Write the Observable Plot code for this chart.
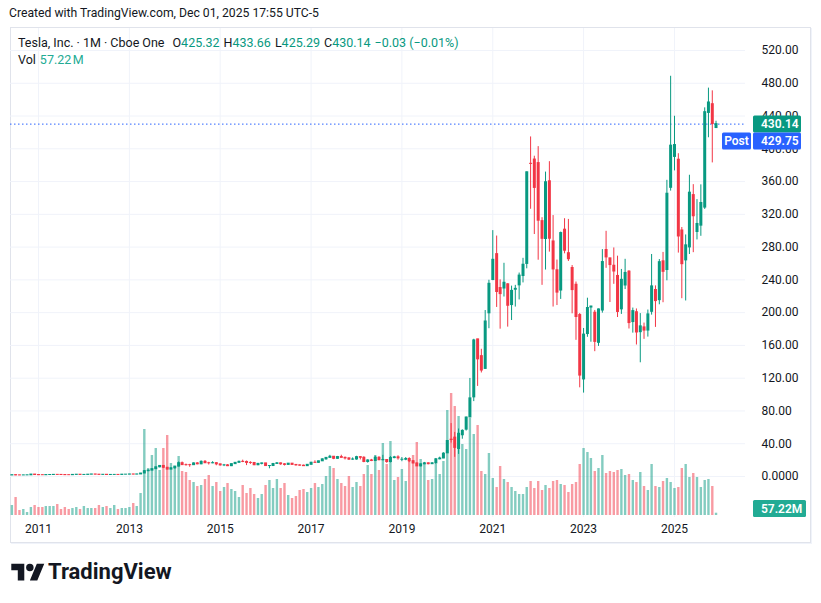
<!DOCTYPE html>
<html><head><meta charset="utf-8">
<script src="https://cdn.jsdelivr.net/npm/d3@7"></script>
<script src="https://cdn.jsdelivr.net/npm/@observablehq/plot@0.6"></script>
<style>
body{margin:0;background:#fff;font-family:"Trebuchet MS",Roboto,"DejaVu Sans",sans-serif;color:#131722}
#wrap{position:relative;width:821px;height:603px;overflow:hidden;background:#fff}
.layer{position:absolute;left:0;top:0}
#frame{position:absolute;left:10px;top:27px;width:799px;height:514px;border:1px solid #e0e3eb;box-shadow:1px 1px 0 #f0f3fa}
#created{position:absolute;left:9px;top:5px;font-size:12.2px;line-height:16px;color:#131722;white-space:nowrap}
.leg{position:absolute;left:18px;font-size:12.5px;line-height:16px;white-space:nowrap;color:#131722}
.leg .v{color:#089981}
.leg .sp{display:inline-block;width:4px}
.leg .sp2{display:inline-block;width:8px}
#brand{position:absolute;left:48px;top:559px;font-family:Roboto,"Noto Sans",sans-serif;font-weight:700;font-size:22px;line-height:26px;color:#131722;letter-spacing:0}
#logo{position:absolute;left:11px;top:560px}
</style></head>
<body><div id="wrap">
<div id="created">Created with TradingView.com, Dec 01, 2025 17:55 UTC-5</div>
<div id="frame"></div>
<div id="plots"></div>
<div class="leg" id="leg1" style="top:35px"></div>
<div class="leg" id="leg2" style="top:52px"></div>
<svg id="logo" width="34" height="26" viewBox="0 0 36 28"><path fill="#131722" d="M14 22H7V11H0V4h14v18zM28 22h-8l7.5-18h8L28 22z"/><circle fill="#131722" cx="20" cy="8" r="4"/></svg>
<div id="brand">TradingView</div>
</div>
<script>
// ---- data (monthly, split-adjusted) ----
const firstMonth = "2010-06-01";
const open = [
1.27,1.67,1.37,1.31,1.39,1.46,2.36,
1.79,1.62,1.57,1.79,1.85,2.00,1.94,1.86,1.64,1.63,1.95,2.18,
1.90,1.94,2.23,2.48,2.22,1.96,2.09,1.82,1.92,1.95,1.89,2.25,
2.26,2.50,2.32,2.53,3.67,6.50,7.20,8.99,11.23,12.89,10.65,8.46,
9.99,12.09,16.26,13.90,13.86,13.83,16.00,14.89,17.93,16.18,16.11,16.29,
14.83,13.57,13.59,12.59,15.09,16.70,17.89,17.75,16.58,16.56,13.79,15.39,
16.00,12.76,12.77,15.32,16.05,14.88,14.15,15.67,14.13,13.60,13.18,12.63,
14.25,16.79,16.67,18.55,20.94,22.73,24.11,21.57,23.73,22.74,22.10,20.59,
20.76,23.62,22.87,17.74,19.59,18.98,22.86,19.88,20.11,17.65,22.49,23.37,
20.41,20.47,21.33,18.66,15.91,12.34,14.90,16.11,15.04,16.06,20.99,21.99,
28.30,44.91,47.42,33.60,50.33,57.20,72.06,96.60,167.38,146.92,131.33,199.20,
239.82,271.43,230.04,229.46,234.60,209.27,227.97,233.33,244.69,259.47,381.67,386.90,
382.58,311.74,289.89,360.38,286.92,251.72,227.00,301.28,272.58,254.50,234.05,197.08,
118.47,173.89,206.21,199.91,163.17,202.59,276.49,266.26,257.26,244.81,204.04,233.14,
250.08,188.50,200.52,176.17,182.00,178.13,201.02,227.69,215.26,262.67,252.04,352.38,
390.10,386.68,300.34,263.80,279.63,343.50,298.46,306.20,328.23,443.80,454.46,425.32];
const high = [
1.67,1.73,1.46,1.47,1.48,2.40,2.39,
1.83,1.69,1.87,1.87,2.09,2.07,2.07,1.90,1.80,2.08,2.28,2.31,
2.10,2.30,2.55,2.60,2.33,2.28,2.20,2.02,2.10,2.00,2.29,2.40,
2.63,2.62,2.60,3.72,7.33,8.00,9.00,11.32,12.97,12.95,11.00,10.39,
12.34,17.72,17.69,15.20,14.85,16.60,16.79,19.00,19.43,17.30,18.07,16.83,
15.07,14.74,14.50,15.43,17.00,18.77,19.95,18.85,18.00,16.73,15.95,16.32,
16.00,13.32,15.68,17.10,16.40,15.61,15.80,15.72,14.56,14.16,13.91,14.54,
17.31,19.20,18.70,21.60,22.98,25.83,24.40,24.50,25.97,23.80,22.70,22.70,
24.65,24.20,24.10,20.40,20.90,24.90,24.20,25.83,20.60,24.30,24.60,25.30,
23.15,23.10,22.93,19.20,16.54,15.20,17.20,16.50,16.90,22.00,23.60,29.00,
43.53,64.60,53.80,57.99,57.00,72.51,119.67,167.50,167.50,155.30,202.60,239.57,
300.13,293.50,240.00,260.26,235.33,232.40,233.33,248.33,266.33,371.74,414.50,390.95,
402.67,315.92,371.59,384.29,318.50,264.21,298.32,314.67,313.80,257.50,237.40,198.92,
180.68,217.65,207.79,202.69,204.48,276.99,299.29,266.47,278.98,268.94,252.75,265.13,
251.25,205.60,204.52,198.87,187.26,203.20,271.00,232.67,264.86,273.54,361.53,488.54,
439.74,394.00,303.94,294.86,367.71,356.26,338.00,356.00,450.00,474.07,470.75,433.66];
const low = [
1.17,1.00,1.16,1.27,1.33,1.43,1.73,
1.48,1.40,1.46,1.57,1.69,1.73,1.79,1.43,1.52,1.52,1.83,1.76,
1.49,1.94,2.20,2.15,1.83,1.90,1.76,1.76,1.73,1.82,1.83,2.12,
2.24,2.19,2.28,2.47,3.61,5.95,7.10,8.80,10.60,9.70,7.99,8.32,
9.16,11.80,13.38,12.65,11.27,13.63,14.23,14.37,16.04,14.03,15.58,13.12,
12.71,12.09,12.12,12.13,14.71,16.30,16.90,13.30,14.76,13.15,13.10,14.24,
12.24,9.40,12.23,14.90,13.69,12.82,13.90,13.92,12.66,12.71,12.24,12.31,
14.15,16.36,16.10,18.44,19.90,22.50,20.55,21.17,22.83,20.20,19.66,19.77,
19.92,20.22,16.81,16.31,18.15,18.20,19.29,19.18,16.15,16.60,21.70,19.94,
18.08,19.30,16.90,15.58,12.20,11.80,14.50,14.25,14.75,14.72,20.40,21.80,
28.10,40.77,23.37,26.95,45.50,55.50,71.80,91.40,109.96,126.37,130.60,180.40,
239.06,206.33,179.83,219.08,182.33,190.40,206.82,215.53,236.30,253.50,326.20,295.37,
264.00,233.33,252.01,273.90,206.86,208.69,216.17,271.81,262.47,198.59,166.19,108.24,
101.81,169.93,163.91,152.37,158.83,199.37,254.12,212.36,234.58,194.07,197.85,228.20,
180.06,175.01,160.51,138.80,167.41,170.18,197.00,182.00,209.60,212.11,238.88,348.35,
373.04,272.70,217.02,214.25,271.00,273.21,288.77,293.20,326.00,413.49,382.78,425.29];
const close = [
1.59,1.33,1.30,1.36,1.46,2.36,1.78,
1.61,1.59,1.78,1.85,2.00,1.94,1.86,1.64,1.63,1.95,2.18,1.90,
1.94,2.23,2.48,2.22,1.96,2.09,1.82,1.92,1.95,1.89,2.25,2.26,
2.50,2.32,2.53,3.60,6.50,7.17,8.98,11.24,12.89,10.65,8.46,10.03,
12.09,16.26,13.90,13.86,13.83,16.00,14.89,17.93,16.18,16.11,16.29,14.83,
13.57,13.59,12.59,15.09,16.70,17.89,17.75,16.58,16.56,13.79,15.39,16.00,
12.76,12.77,15.32,16.05,14.88,14.15,15.67,14.13,13.60,13.18,12.63,14.25,
16.79,16.67,18.55,20.94,22.73,24.11,21.57,23.73,22.74,22.10,20.59,20.76,
23.62,22.87,17.74,19.59,18.98,22.86,19.88,20.11,17.65,22.49,23.37,22.19,
20.47,21.33,18.66,15.91,12.34,14.90,16.11,15.04,16.06,20.99,21.99,27.89,
43.37,44.53,34.93,52.13,55.67,71.99,95.38,166.11,143.00,129.35,189.20,235.22,
264.51,225.17,222.64,236.48,208.41,226.57,229.07,245.24,258.49,371.33,381.59,352.26,
312.24,290.14,359.20,290.25,252.75,224.47,297.15,275.61,265.25,227.54,194.70,123.18,
173.22,205.71,207.46,164.31,203.93,261.77,267.43,258.08,250.22,200.84,240.08,248.48,
187.29,201.88,175.79,183.28,178.08,197.88,232.07,214.11,261.63,249.85,345.16,403.84,
404.60,292.98,259.16,282.16,346.46,317.66,308.27,333.87,444.72,456.56,430.17,430.14];
// volume in millions (Cboe One)
const volume = [
250,450,125,150,75,200,250,
200,200,225,225,225,275,150,200,150,175,200,150,
225,175,175,175,250,200,225,175,250,150,175,175,
200,300,225,550,2150,1175,1500,1675,1125,1675,2000,1300,
1200,1475,1100,1075,875,825,725,750,900,1000,725,825,
600,700,800,650,600,450,750,550,675,525,425,525,
750,875,675,900,675,800,500,425,475,625,650,575,
675,800,700,775,975,1225,1175,900,800,725,975,700,
825,725,1025,1250,1025,1500,1125,1800,1275,1850,875,950,
1150,850,1350,1500,1825,1400,1275,875,900,1275,1025,1350,
2625,3050,2725,2475,1775,1650,2425,2025,2250,1100,1025,1550,
925,700,1225,900,825,700,600,525,525,700,850,675,
850,625,750,675,850,875,775,750,575,775,825,1275,
1675,1575,1425,1100,1175,1500,1050,1100,1075,1125,1150,1000,
1025,875,825,1075,725,625,1275,725,700,850,925,825,
675,700,1175,1275,950,1050,950,700,875,900,725,57.22];
const yearTicks = [2011,2013,2015,2017,2019,2021,2023,2025];
const priceTicks = [0,40,80,120,160,200,240,280,320,360,400,440,480,520];
const postPrice = 429.75;
const symbolName = "Tesla, Inc.", interval = "1M", exchange = "Cboe One";

// ---- build ----
const up = "#089981", down = "#f23645";
const data = close.map((c, i) => ({
  date: d3.utcMonth.offset(new Date(firstMonth), i),
  open: open[i], high: high[i], low: low[i], close: c, volume: volume[i]
}));
const last = data[data.length - 1], prev = data[data.length - 2];
const colorOf = d => d.close >= d.open ? up : down;
const yearDates = yearTicks.map(y => new Date(Date.UTC(y, 0, 1)));
const fontFamily = '"Trebuchet MS", Roboto, "DejaVu Sans", sans-serif';

const common = {
  width: 821, height: 545,
  marginLeft: 10, marginRight: 76, marginTop: 28, marginBottom: 28,
  color: {type: "identity"},
  style: {background: "transparent", fontFamily, fontSize: "12px", color: "#131722", overflow: "visible"}
};
const xScale = {type: "utc", domain: [new Date("2010-05-21"), new Date("2026-07-26")]};
const priceY = {domain: [0, 520], range: [476, 50]};

function labelBox(g, x, yc, w, fill, text, anchor) {
  g.append("rect").attr("x", x).attr("y", yc - 8).attr("width", w).attr("height", 17)
    .attr("fill", fill).attr("rx", 1.5);
  g.append("text")
    .attr("x", anchor === "middle" ? x + w / 2 : x + 8)
    .attr("y", yc + 0.5).attr("dy", "0.35em")
    .attr("text-anchor", anchor || "start")
    .attr("fill", "#fff").attr("font-size", 12).attr("font-weight", 600).text(text);
}

// layer 1: grid + axes
const gridLayer = Plot.plot({
  ...common,
  x: {...xScale},
  y: {...priceY},
  marks: [
    Plot.gridY(priceTicks, {stroke: "#f0f3fa", strokeOpacity: 1}),
    Plot.gridX(yearDates, {stroke: "#f0f3fa", strokeOpacity: 1}),
    Plot.axisY(priceTicks, {anchor: "right", tickSize: 0, tickPadding: 16,
      tickFormat: d => d === 0 ? "0.0000" : d.toFixed(2)}),
    Plot.axisX(yearDates, {anchor: "bottom", tickSize: 0, tickPadding: 7, tickFormat: d3.utcFormat("%Y")})
  ]
});

// layer 2: volume
const volLabel = (index, scales, values, dims) => {
  const g = d3.create("svg:g");
  const xr = dims.width - dims.marginRight;
  const yc = Math.min(scales.y(last.volume), dims.height - dims.marginBottom - 9);
  labelBox(g, xr + 8, yc, 53, "#22ab94", d3.format(".2f")(last.volume) + "M");
  return g.node();
};
const volLayer = Plot.plot({
  ...common,
  x: {...xScale, axis: null},
  y: {domain: [0, 4000], range: [515, 355], axis: null},
  marks: [
    Plot.ruleX(data, {x: "date", y1: 0, y2: "volume", stroke: colorOf, strokeOpacity: 0.5, strokeWidth: 2.4}),
    volLabel
  ]
});

// layer 3: candles + price labels
const priceLabels = (index, scales, values, dims) => {
  const g = d3.create("svg:g");
  const xr = dims.width - dims.marginRight;
  const yc = scales.y(last.close);
  labelBox(g, xr + 8, yc, 48, up, last.close.toFixed(2));
  const yp = yc + 17;
  labelBox(g, xr - 23, yp, 29, "#2962ff", "Post", "middle");
  labelBox(g, xr + 8, yp, 48, "#2962ff", postPrice.toFixed(2));
  return g.node();
};
const candleLayer = Plot.plot({
  ...common,
  x: {...xScale, axis: null},
  y: {...priceY, axis: null},
  marks: [
    Plot.ruleY([last.close], {stroke: "#2962ff", strokeWidth: 1, strokeDasharray: "1.5,2.5"}),
    Plot.ruleX(data, {x: "date", y1: "low", y2: "high", stroke: colorOf, strokeWidth: 1}),
    Plot.ruleX(data, {x: "date", y1: d => Math.max(d.open, d.close), y2: d => Math.min(d.open, d.close),
      stroke: colorOf, strokeWidth: 3, insetTop: -0.5, insetBottom: -0.5}),
    priceLabels
  ]
});

const holder = document.getElementById("plots");
for (const el of [gridLayer, volLayer, candleLayer]) { el.classList.add("layer"); holder.appendChild(el); }

// legend
const chg = last.close - prev.close;
const signed = v => (v < 0 ? "\u2212" : "+") + Math.abs(v).toFixed(2);
const pct = chg / prev.close * 100;
document.getElementById("leg1").innerHTML =
  `${symbolName} \u00b7 ${interval} \u00b7 ${exchange}<span class="sp2"></span>` +
  `O<span class="v">${last.open.toFixed(2)}</span><span class="sp"></span>` +
  `H<span class="v">${last.high.toFixed(2)}</span><span class="sp"></span>` +
  `L<span class="v">${last.low.toFixed(2)}</span><span class="sp"></span>` +
  `C<span class="v">${last.close.toFixed(2)}</span><span class="sp"></span>` +
  `<span class="v">${signed(chg)} (${signed(pct)}%)</span>`;
document.getElementById("leg2").innerHTML =
  `Vol<span class="sp"></span><span class="v" style="color:#22ab94">${last.volume.toFixed(2)}\u202fM</span>`;
</script>
</body></html>
